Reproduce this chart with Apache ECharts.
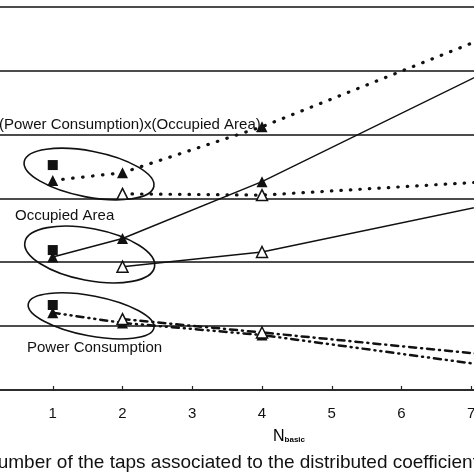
<!DOCTYPE html>
<html>
<head>
<meta charset="utf-8">
<script src="https://cdn.jsdelivr.net/npm/echarts@6/dist/echarts.min.js"></script>
<style>
  html, body { margin: 0; padding: 0; background: #fff; }
  #chart { width: 474px; height: 474px; }
</style>
</head>
<body>
<div id="chart"></div>
<script>
// N_basic values along the x axis (the N=8 end lies past the cropped right edge)
const nBasic = [1, 2, 4, 8];

// (Power Consumption)x(Occupied Area) -- dotted
const productFilled = [3.28, 3.40, 4.12, 5.86];
const productOpen   = [null, 3.07, 3.05, 3.31];
const productSquare = [3.52, null, null, null];

// Occupied Area -- solid
const areaFilled = [2.08, 2.37, 3.26, 5.40];
const areaOpen   = [null, 1.93, 2.16, 3.07];
const areaSquare = [2.19, null, null, null];

// Power Consumption -- dash dot
const powerFilled = [1.21, 1.05, 0.86, 0.27];
const powerOpen   = [null, 1.11, 0.90, 0.47];
const powerSquare = [1.33, null, null, null];

const xTicks = ['1', '2', '3', '4', '5', '6', '7'];

// ellipses drawn round the N=1..2 points, centre in data units
const rings = [
  { at: [1.52, 3.38], rx: 66, ry: 23 },
  { at: [1.53, 2.12], rx: 66, ry: 26 },
  { at: [1.55, 1.16], rx: 64, ry: 20 }
];

const FONT = '"Liberation Sans", Arial, sans-serif';
const INK = '#111';

function pairs(arr) {
  return nBasic.map((x, i) => [x, arr[i]]).filter(p => p[1] != null);
}

function line(data, dash, width, symbol, open) {
  return {
    type: 'line',
    data: pairs(data),
    symbol: symbol,
    symbolSize: symbol === 'rect' ? 10 : 11,
    showSymbol: true,
    lineStyle: { color: INK, width: width, type: dash, cap: 'round' },
    itemStyle: open
      ? { color: '#fff', borderColor: INK, borderWidth: 1.5 }
      : { color: INK, borderWidth: 0 },
    z: 3
  };
}

var chart = echarts.init(document.getElementById('chart'));
var option = {
  animation: false,
  backgroundColor: '#fff',
  grid: { left: -17, right: -74, top: -3, bottom: 84, outerBoundsMode: 'none' },
  xAxis: {
    type: 'value',
    min: 0, max: 8.1, interval: 1,
    axisLine: { show: true, lineStyle: { color: '#222', width: 1.5 } },
    axisTick: { show: true, inside: true, length: 4, lineStyle: { color: '#222', width: 1.2 } },
    splitLine: { show: false },
    axisLabel: {
      margin: 16, color: INK, fontSize: 15, fontFamily: FONT,
      formatter: v => (Number.isInteger(v) && v >= 1 && v <= 7) ? xTicks[v - 1] : ''
    }
  },
  yAxis: {
    type: 'value',
    min: 0, max: 6.15, interval: 1,
    axisLine: { show: false },
    axisTick: { show: false },
    axisLabel: { show: false },
    splitLine: { show: true, lineStyle: { color: INK, width: 1.6 } }
  },
  series: [
    line(productFilled, [0.5, 9.5], 3.2, 'triangle', false),
    line(productOpen, [0.5, 9], 3.2, 'triangle', true),
    line(productSquare, 'solid', 1, 'rect', false),
    line(areaFilled, 'solid', 1.5, 'triangle', false),
    line(areaOpen, 'solid', 1.5, 'triangle', true),
    line(areaSquare, 'solid', 1, 'rect', false),
    line(powerFilled, [7, 5, 1, 5, 1, 5], 2.5, 'triangle', false),
    line(powerOpen, [7, 5, 1, 5], 2.5, 'triangle', true),
    line(powerSquare, 'solid', 1, 'rect', false)
  ]
};
chart.setOption(option, true);

// annotations: ellipses and texts
var g = rings.map(r => {
  var c = chart.convertToPixel({ gridIndex: 0 }, r.at);
  return {
    type: 'ellipse',
    x: c[0], y: c[1],
    rotation: -0.19,
    shape: { cx: 0, cy: 0, rx: r.rx, ry: r.ry },
    style: { fill: 'none', stroke: INK, lineWidth: 1.6 },
    z: 10
  };
});
function txt(s, x, y, size) {
  return {
    type: 'text', x: x, y: y, z: 11,
    style: { text: s, font: size + 'px ' + FONT, fill: INK, verticalAlign: 'middle', textVerticalAlign: 'middle' }
  };
}
g.push(txt('(Power Consumption)x(Occupied Area)', -1, 125, 15));
g.push(txt('Occupied Area', 15, 216, 15));
g.push(txt('Power Consumption', 27, 348, 15));
g.push(txt('Number of the taps associated to the distributed coefficients', -16, 463, 19));
g.push({
  type: 'text', x: 273, y: 437, z: 11,
  style: {
    text: '{n|N}{s|basic}', verticalAlign: 'middle', textVerticalAlign: 'middle',
    rich: {
      n: { fontSize: 16, fontFamily: FONT, color: INK },
      s: { fontSize: 8, fontWeight: 'bold', fontFamily: FONT, color: INK, padding: [6, 0, 0, 0] }
    }
  }
});
chart.setOption({ graphic: g });
</script>
</body>
</html>
